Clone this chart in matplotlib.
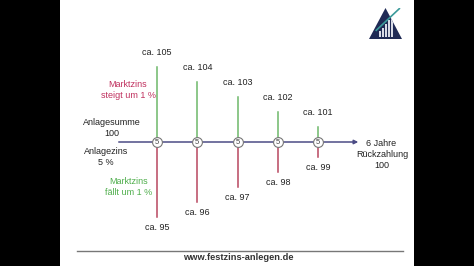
import matplotlib
matplotlib.use("Agg")
import matplotlib.pyplot as plt
from matplotlib.patches import Polygon, Rectangle

plt.rcParams['font.family'] = ['Liberation Sans', 'DejaVu Sans']

# Years of the bond, coupon, and approximate prices when market rates move
years = [1, 2, 3, 4, 5]
coupon = [5, 5, 5, 5, 5]
price_up = [105, 104, 103, 102, 101]     # market rate falls by 1 %
price_down = [95, 96, 97, 98, 99]        # market rate rises by 1 %
nominal = 100
term_years = 6

W, H = 474, 266
fig = plt.figure(figsize=(W / 100, H / 100), dpi=100, facecolor='black')

# white slide area
ax = fig.add_axes([60 / W, 0, 354 / W, 1])
ax.set_facecolor('white')
ax.set_xticks([])
ax.set_yticks([])
for s in ax.spines.values():
    s.set_visible(False)

# data scales: 40.25 px per year, 15 px per price unit
x0_px, dx_px = 157, 40.25
y0_px, dy_px = 142, 15.0


def px(x):
    return years[0] + (x - x0_px) / dx_px


def py(y):
    return nominal + (y0_px - y) / dy_px


ax.set_xlim(px(60), px(414))
ax.set_ylim(py(266), py(0))

green = '#6db86a'
red = '#b8475f'
axis_col = '#4b4b85'
txt = '#222222'

# time axis with arrow
ax.annotate('', xy=(term_years, nominal), xytext=(0.05, nominal),
            arrowprops=dict(arrowstyle='-|>', color=axis_col, lw=1.1,
                            mutation_scale=6, shrinkA=0, shrinkB=0),
            zorder=2)

for x, up, down, c in zip(years, price_up, price_down, coupon):
    ax.plot([x, x], [nominal, up], color=green, lw=1.1, zorder=1)
    ax.plot([x, x], [nominal, down], color=red, lw=1.1, zorder=1)
    ax.annotate(f'ca. {up}', (x, up), xytext=(0, 7), textcoords='offset points',
                ha='center', va='bottom', fontsize=6.5, color=txt)
    ax.annotate(f'ca. {down}', (x, down), xytext=(0, -4), textcoords='offset points',
                ha='center', va='top', fontsize=6.5, color=txt)
    ax.scatter([x], [nominal], s=50, facecolor='white', edgecolor='#777777',
               linewidth=0.8, zorder=3)
    ax.text(x, nominal, str(c), ha='center', va='center', fontsize=5.5,
            color='#444444', zorder=4)

ax.text(px(128), py(90), 'Marktzins\nsteigt um 1 %', ha='center', va='center',
        fontsize=6.5, color='#c0305e', linespacing=1.2)
ax.text(px(112), py(128), f'Anlagesumme\n{nominal}', ha='center', va='center',
        fontsize=6.5, color=txt, linespacing=1.2)
ax.text(px(106), py(157), f'Anlagezins\n{coupon[0]} %', ha='center', va='center',
        fontsize=6.5, color=txt, linespacing=1.2)
ax.text(px(129), py(187), 'Marktzins\nfällt um 1 %', ha='center', va='center',
        fontsize=6.5, color='#4fae4c', linespacing=1.2)
ax.text(px(381), py(143), f'{term_years} Jahre', ha='center', va='center',
        fontsize=6.5, color=txt)
ax.text(px(382), py(160), f'Rückzahlung\n{nominal}', ha='center', va='center',
        fontsize=6.5, color=txt, linespacing=1.2)

# footer rule and web address
ax.plot([px(77), px(403)], [py(251), py(251)], color='#777777', lw=1.0)
ax.text(px(238), py(258), 'www.festzins-anlegen.de',
        ha='center', va='center', fontsize=6.7, fontweight='bold', color='#333333')

# logo
lg = fig.add_axes([369 / W, 1 - 39 / H, 33 / W, 31 / H])
lg.set_axis_off()
lg.set_xlim(0, 1)
lg.set_ylim(0, 1)
tri = Polygon([[0, 0.0], [1, 0.0], [0.5, 1.0]], closed=True,
              facecolor='#1f2a55', edgecolor='none')
lg.add_patch(tri)
for i, h in enumerate([0.2, 0.32, 0.44, 0.56, 0.68]):
    r = Rectangle((0.3 + i * 0.09, 0.05), 0.075, h,
                  facecolor='#d8dbe6', edgecolor='none')
    lg.add_patch(r)
    r.set_clip_path(tri)
ln, = lg.plot([0.22, 0.92], [0.28, 0.98], color='#3a9a9a', lw=1.2)

fig.savefig('out.png', dpi=100, facecolor='black')
